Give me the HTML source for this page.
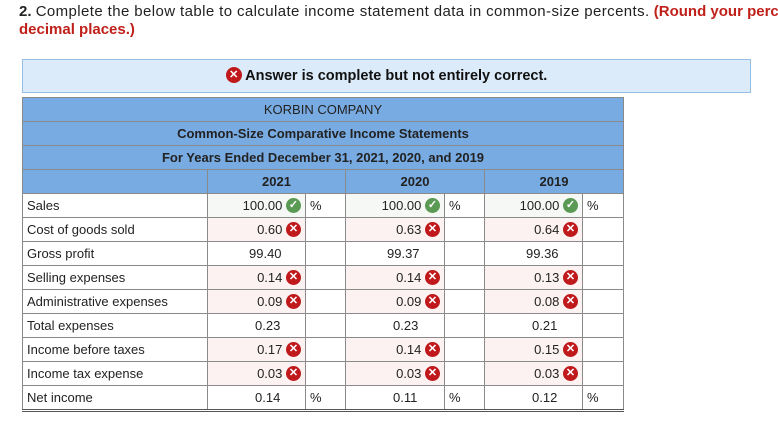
<!DOCTYPE html>
<html><head><meta charset="utf-8"><style>
body{margin:0;width:778px;height:440px;background:#fff;font-family:"Liberation Sans",Arial,sans-serif;overflow:hidden;position:relative}
.q{position:absolute;left:19px;top:3px;width:759px;overflow:hidden;font-size:15px;line-height:18px;color:#222;white-space:nowrap}
.q .n{letter-spacing:0.4px}
.q b.r{color:#c0201a}
.banner{position:absolute;left:22px;top:59px;width:729px;height:34px;background:#dcebf9;border:1px solid #96bde4;box-sizing:border-box;font-size:14.5px;font-weight:bold;color:#111;text-align:center;line-height:32px}
.x{display:inline-block;width:15px;height:15px;border-radius:50%;background:#c0191c;color:#fff;font-size:11px;line-height:15px;text-align:center;vertical-align:middle;font-weight:bold;margin-top:-2px}
.banner .x{width:16px;height:16px;line-height:16px}
.ok{background:#5a9a54}
table{position:absolute;left:22px;top:97px;border-collapse:collapse;font-size:13px;color:#222;table-layout:fixed}
td{border:1px solid #8a8a8a;height:23px;padding:0 4px;white-space:nowrap;vertical-align:middle;line-height:16px}
tr.h td{background:#78abe2;text-align:center;color:#222}
tr.h td.b{font-weight:bold}
td.v{text-align:right;padding-right:4px}
td.g{background:#f5f8f4}
td.e{background:#fdf2f2}
td.gp{padding-left:41px}
td.c{text-align:left;padding-left:47px}
.last td{border-bottom:3px double #555}
</style></head><body>
<div class="q"><b>2.</b> <span class="n">Complete the below table to calculate income statement data in common-size percents.</span> <b class="r">(Round your percentage answers to 2</b><br><b class="r">decimal places.)</b></div>
<div class="banner"><span class="x">✕</span> Answer is complete but not entirely correct.</div>
<table>
<colgroup><col style="width:185px"><col style="width:98px"><col style="width:40px"><col style="width:99px"><col style="width:40px"><col style="width:98px"><col style="width:41px"></colgroup>
<tr class="h"><td colspan="7">KORBIN COMPANY</td></tr>
<tr class="h"><td colspan="7" class="b">Common-Size Comparative Income Statements</td></tr>
<tr class="h"><td colspan="7" class="b">For Years Ended December 31, 2021, 2020, and 2019</td></tr>
<tr class="h"><td></td><td colspan="2" class="b">2021</td><td colspan="2" class="b">2020</td><td colspan="2" class="b">2019</td></tr>
<tr><td>Sales</td><td class="v g">100.00 <span class="x ok">✓</span></td><td>%</td><td class="v g">100.00 <span class="x ok">✓</span></td><td>%</td><td class="v g">100.00 <span class="x ok">✓</span></td><td>%</td></tr>
<tr><td>Cost of goods sold</td><td class="v e">0.60 <span class="x">✕</span></td><td></td><td class="v e">0.63 <span class="x">✕</span></td><td></td><td class="v e">0.64 <span class="x">✕</span></td><td></td></tr>
<tr><td>Gross profit</td><td class="gp">99.40</td><td></td><td class="gp">99.37</td><td></td><td class="gp">99.36</td><td></td></tr>
<tr><td>Selling expenses</td><td class="v e">0.14 <span class="x">✕</span></td><td></td><td class="v e">0.14 <span class="x">✕</span></td><td></td><td class="v e">0.13 <span class="x">✕</span></td><td></td></tr>
<tr><td>Administrative expenses</td><td class="v e">0.09 <span class="x">✕</span></td><td></td><td class="v e">0.09 <span class="x">✕</span></td><td></td><td class="v e">0.08 <span class="x">✕</span></td><td></td></tr>
<tr><td>Total expenses</td><td class="c">0.23</td><td></td><td class="c">0.23</td><td></td><td class="c">0.21</td><td></td></tr>
<tr><td>Income before taxes</td><td class="v e">0.17 <span class="x">✕</span></td><td></td><td class="v e">0.14 <span class="x">✕</span></td><td></td><td class="v e">0.15 <span class="x">✕</span></td><td></td></tr>
<tr><td>Income tax expense</td><td class="v e">0.03 <span class="x">✕</span></td><td></td><td class="v e">0.03 <span class="x">✕</span></td><td></td><td class="v e">0.03 <span class="x">✕</span></td><td></td></tr>
<tr class="last"><td>Net income</td><td class="c">0.14</td><td>%</td><td class="c">0.11</td><td>%</td><td class="c">0.12</td><td>%</td></tr>
</table>
</body></html>
